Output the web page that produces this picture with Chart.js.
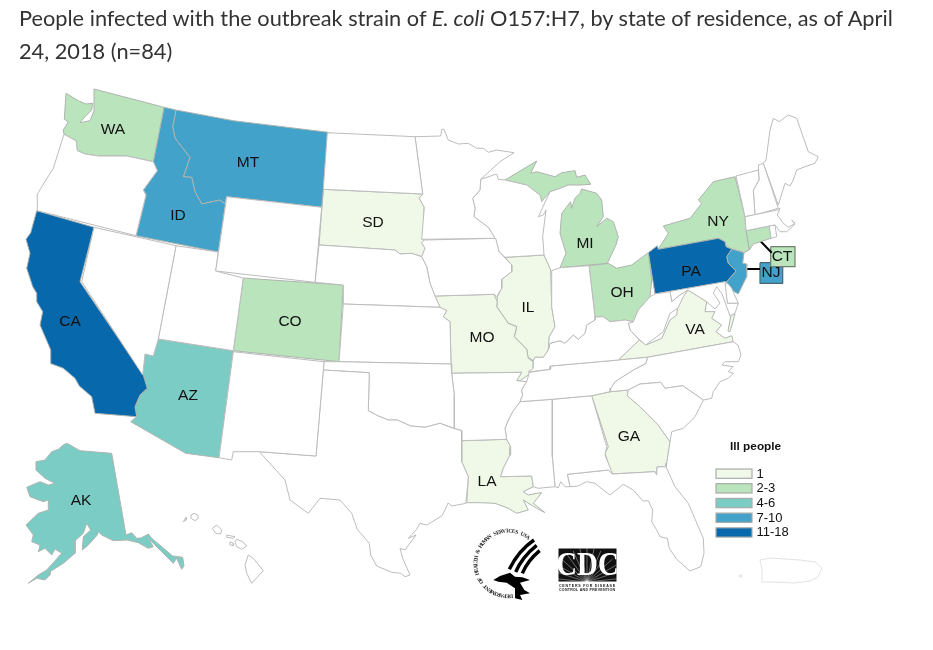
<!DOCTYPE html>
<html><head><meta charset="utf-8">
<script src="https://cdn.jsdelivr.net/npm/chart.js@4"></script>
<style>
html,body{margin:0;padding:0;background:#fff;width:933px;height:650px;overflow:hidden}
#t{position:absolute;left:19px;top:2px;width:910px;font:21.75px/33px Lato,sans-serif;color:#333;z-index:2;white-space:nowrap}
canvas{position:absolute;left:0;top:0}
</style></head><body>
<div id="t">People infected with the outbreak strain of <i>E. coli</i> O157:H7, by state of residence, as of April<br>24, 2018 (n=84)</div>
<canvas id="c" width="933" height="650"></canvas>
<script>
// legend bins
const binLabels=['1','2-3','4-6','7-10','11-18'];
const binColors=['#f0f9e8','#bae4bc','#7bccc4','#43a2ca','#0868ac'];
// states in each bin
const bin1=['SD','IL','MO','VA','GA','LA','VAES'];
const bin2=['WA','CO','MI','MIU','OH','NY','CT'];
const bin3=['AZ','AK'];
const bin4=['MT','ID','NJ'];
const bin5=['CA','PA'];
// state labels [text, x, y]
const labels=[['WA',113,130],['MT',248,163],['ID',178,216],['SD',373,223],['MI',585,244],['NY',718,222],['PA',691,272],['OH',622,293],['IL',528,308],['MO',482,338],['VA',695,330],['CO',290,322],['CA',70,322],['AZ',188,396],['GA',629,437],['LA',487,482],['AK',81,501],['CT',782,257],['NJ',771,273]];
// outlines, in map units
const WA=[[66,93.3],[78.3,100.7],[86,104],[92.7,103.3],[91.7,110],[85,116.7],[80,122.7],[90,120.7],[94,110.7],[94,98.3],[94,89],[164,107.3],[153.3,161.7],[126.7,156],[98.3,156],[85,154],[77.3,150.7],[76,140.7],[64,134.3],[63.3,130],[68.3,121.7],[64.3,119.3]];
const OR=[[64,134.3],[76,140.7],[77.3,150.7],[85,154],[98.3,156],[126.7,156],[153.3,161.7],[157.3,170.7],[143.3,190],[146,195],[136,235.7],[37.3,210.7],[37.3,194],[53.3,168.3]];
const ID=[[164,107.3],[176,110],[172.7,126.7],[175,138.3],[190,157.3],[183.3,176.7],[191.7,177.3],[195,191.7],[201.7,204],[220,200],[225,204],[226.7,196.7],[218.3,252],[136,235.7],[146,195],[143.3,190],[157.3,170.7],[153.3,161.7]];
const MT=[[176,110],[233.3,120.7],[328.3,132.3],[321.7,207.3],[226.7,196.7],[225,204],[220,200],[201.7,204],[195,191.7],[191.7,177.3],[183.3,176.7],[190,157.3],[175,138.3],[172.7,126.7]];
const WY=[[226.7,196.7],[321.7,207.3],[315,282.3],[215.7,271]];
const NV=[[94,227.3],[176,245.7],[158.3,339],[153.3,356],[145,354],[142.7,375],[81.7,281.7]];
const CA=[[36.7,210.7],[94,227.3],[80,281.7],[143.3,375],[147.3,388.3],[140,395],[135,406.7],[136.7,416.7],[95,413.3],[91.7,396.7],[79.3,386],[75,378.3],[63.3,368.3],[50,363.3],[50.7,350],[40,325],[42.7,311.7],[36.7,301.7],[36.7,293.3],[32.7,286.7],[26.7,268.3],[30,253.3],[26,239.3],[30.7,232.7]];
const BAY=[[39.3,290.7],[42.7,290],[44,302.7],[40.7,296.7]];
const AZ=[[158.3,339],[233.3,350.7],[219,457.7],[185.7,453.3],[130.7,421.7],[136.7,416.7],[135,406.7],[140,395],[147.3,388.3],[142.7,375],[145,354],[153.3,356]];
const UT=[[176,245.7],[218.3,252],[215.7,271],[243.3,278],[233.3,350.7],[158.3,339]];
const CO=[[243.3,278],[343.3,285],[339,361.7],[233.3,350.7]];
const NM=[[233.3,351.7],[324,361.7],[316,456],[259.3,451.7],[233.3,451.7],[231.7,460],[219,457.7]];
const TX=[[323.3,370],[369.3,372.7],[368.3,410.7],[378.3,416],[388.3,420],[397.3,420],[410.7,426],[425,427.3],[440,423.3],[453.3,428.3],[461.7,430.7],[461.7,461.7],[468.3,476.7],[466,503.3],[452,506],[448,503],[445,510],[441.7,516],[426.7,525],[420,523.3],[416.7,529.3],[408.3,538.3],[416,535],[405,550],[400,548.3],[402.7,558.3],[410,575],[405,576.7],[400.7,573.3],[391.7,572.3],[376.7,566],[370.7,555],[369.3,543.3],[357.3,529.3],[351.7,513.3],[340,500],[320,498.3],[308.3,513.3],[290,500],[285,480],[259.3,451.7],[316,456]];
const OK=[[324,361.7],[339,361.7],[451,364],[451.7,373.3],[454.3,395],[454.3,428.3],[440,423.3],[425,427.3],[410.7,426],[397.3,420],[388.3,420],[378.3,416],[368.3,410.7],[369.3,372.7],[323.3,370]];
const KS=[[343.3,304],[440,307.3],[446.7,310.7],[443.3,316.7],[450,321.7],[451,364],[339,361.7]];
const NE=[[319,245],[395,250],[400,254],[411.7,253.3],[421.7,256.7],[426.7,266.7],[430,283.3],[435,296],[440,307.3],[343.3,304],[343.3,285],[315,282.3]];
const SD=[[323.3,189.3],[422.7,194],[419.3,198.3],[424.3,207.3],[424.3,240],[421.7,242.7],[425,248.3],[421.7,256.7],[411.7,253.3],[400,254],[395,250],[319,245]];
const ND=[[327.3,132.7],[415,136.7],[422.7,194],[323.3,189.3]];
const MN=[[415,136.7],[440.7,136],[441.7,129.3],[444,129.3],[448.3,140],[458.3,144],[468.3,143.3],[476.7,148.3],[483.3,148.3],[488.3,152.3],[496.7,150],[514,152.7],[500,161.7],[480.7,179.3],[480,190],[472.7,198.3],[475,208.3],[474,216.7],[488.3,227.3],[495,238.3],[421.7,239.3],[424.3,207.3],[419.3,198.3],[422.7,194]];
const IA=[[424.3,240],[495.7,238.3],[499,251.7],[511.7,265],[511.7,271.7],[501.7,279.3],[501.7,288.3],[496.7,296.7],[494,294.3],[435,296],[430,283.3],[426.7,266.7],[421.7,256.7],[425,248.3],[421.7,242.7]];
const MO=[[435,296],[494,294.3],[497.3,301.7],[496.7,306.7],[508.3,323.3],[516.7,326.7],[514.3,336.7],[526.7,349.3],[528.3,358.3],[533.3,361.7],[533.3,368.3],[528.3,375],[520,380.7],[516.7,380.7],[521.7,372.3],[451.7,373.3],[451,364],[450,321.7],[443.3,316.7],[446.7,310.7],[440,307.3]];
const IL=[[505,257.3],[544,255],[550.7,270],[551.7,306.7],[555,326.7],[549.3,336.7],[548.3,350],[543.3,357.3],[535,357.3],[533.3,360.7],[527.3,356.7],[526.7,349.3],[514.3,336.7],[516.7,326.7],[508.3,323.3],[496.7,306.7],[497.3,296.7],[501.7,288.3],[501.7,279.3],[511.7,271.7],[511.7,265]];
const WI=[[480.7,179.3],[496.7,174],[498.3,179.3],[505,180],[526.7,185],[540,195],[541.7,201.7],[550,191.7],[538.3,216.7],[543.3,215],[546,210],[542.7,236.7],[544,255],[505,257.3],[499,251.7],[495,238.3],[488.3,227.3],[474,216.7],[475,208.3],[472.7,198.3],[480,190]];
const MIU=[[505,180],[536.7,161],[530.7,173.3],[536.7,171.7],[555,176.7],[561.7,172.7],[575,170.7],[576.7,177.3],[585,175],[590.7,184.3],[580,185],[568.3,185],[560,188.3],[550,191.7],[544,202.7],[541.7,201.7],[540,195],[526.7,185]];
const MI=[[581.7,189],[596.7,193.3],[601.7,200],[603.3,216.7],[596.7,226.7],[606.7,218.3],[613.3,221.7],[618.3,236.7],[616,245],[607.3,263.3],[560,267.7],[566,253.3],[560,233.3],[561.7,213.3],[570.7,201.7],[571.7,208.3],[575,198.3],[580,193.3]];
const IN=[[551.7,270.7],[560,267.7],[589,265.7],[595,317],[595,320],[586.7,325],[585,333.3],[578.3,339.3],[573.3,335],[565,343.3],[560,340.7],[550,343.3],[548.3,350],[549.3,336.7],[555,326.7],[551.7,306.7]];
const OH=[[589,265.7],[608.3,263.3],[616.7,268.3],[631.7,265],[648.3,252.7],[651.7,280],[650,296.7],[638.3,310],[633.3,321.7],[625,320],[610,321.7],[603.3,316.7],[595,317]];
const KY=[[528.3,372],[533.3,368.3],[533.3,360.7],[535,357.3],[543.3,357.3],[548.3,350],[550,343.3],[560,340.7],[565,343.3],[573.3,335],[578.3,339.3],[585,333.3],[586.7,325],[595,320],[595,317],[603.3,316.7],[610,321.7],[625,320],[633.3,321.7],[628.3,323.3],[630,330],[639.3,340],[618.3,360],[550.7,366],[550,369.3]];
const TN=[[529.3,372.3],[550,369.3],[550.7,366],[618.3,360],[647.3,357.3],[646,363.3],[633.3,370],[615,381.7],[610.7,388.3],[610,391.7],[591.7,395.7],[552.3,399.3],[520,401.7],[522.7,395],[521.7,390],[526.7,381.7]];
const AR=[[451.7,373.3],[521.7,372.3],[516.7,380.7],[526.7,381.7],[521.7,390],[522.7,395],[520,401.7],[512.7,411.7],[508.3,420],[505,428.3],[506.7,439.3],[461.7,440.7],[461.7,430.7],[454.3,428.3],[454.3,395]];
const LA=[[461.7,440.7],[506.7,439.3],[510.7,446.7],[510,455],[503.3,468.3],[500.7,476.7],[531.7,476],[533.3,486.7],[523.3,491.7],[528.3,495],[536.7,493.3],[541.7,492.7],[533.3,503.3],[545,512.7],[536.7,508.3],[523.3,500],[528.3,510],[516.7,513.3],[508.3,508.3],[495,503.3],[480,502.7],[466.7,502.7],[468.3,476.7],[461.7,461.7]];
const MS=[[520,401.7],[552.3,399.3],[552.3,456.7],[555,486.7],[538.3,488.3],[533.3,486.7],[531.7,476],[500.7,476.7],[503.3,468.3],[510,455],[510.7,446.7],[506.7,439.3],[505,428.3],[508.3,420],[512.7,411.7]];
const AL=[[552.3,399.3],[591.7,395.7],[606.7,446.7],[605,455],[612.7,474],[608.3,470],[567.3,474.3],[570,486.7],[565,486.7],[560.7,481.7],[558.3,487.7],[555,486.7],[552.3,456.7]];
const GA=[[591.7,395.7],[610.7,391.7],[628.3,390],[627.3,395.7],[640,406.7],[658.3,425],[670,441.7],[666.7,463.3],[666,466.7],[657,467],[656.7,475],[655,471.7],[611.7,474],[605,453.3],[608.3,446.7]];
const SC=[[627.3,395.7],[628.3,390],[640,384],[660.7,382.3],[665,388.3],[682.7,385.7],[703.3,400],[695,416.7],[683.3,428.3],[671.7,431.7],[670,441.7],[658.3,425],[640,406.7]];
const NC=[[647.3,357.3],[733.3,341.7],[738,345],[741,355],[738.3,361.7],[725,361.7],[722,365],[733,366.7],[728.3,371.7],[733.3,373.3],[728.3,378.3],[720,381.7],[713.3,391.7],[711.7,398.3],[703.3,400],[682.7,385.7],[665,388.3],[660.7,382.3],[640,384],[628.3,390],[610.7,391.7],[610.7,388.3],[615,381.7],[633.3,370],[646,363.3]];
const VA=[[618.3,360],[639.3,340],[646,345],[661.7,338.3],[670,320],[676.7,315],[678,303],[688,290],[706.7,301.7],[705,311.7],[715,311.7],[711.7,318.3],[721.7,325],[716,331.7],[725,338.3],[731.7,335.7],[733.3,341.7],[647.3,357.3]];
const VAES=[[730,331.7],[735,314],[731,315],[728,331]];
const WV=[[628.3,323.3],[633.3,321.7],[638.3,310],[650,296.7],[653.3,295],[655,294],[670,291.7],[671.7,301.7],[680,295],[688,290],[683.3,296.7],[678,308],[670,313.3],[663.3,331.7],[645.7,345],[640,340],[630,330]];
const MD=[[655,294],[725,281.7],[727.3,303.3],[738.3,303.3],[735,313.3],[730,316],[726,305],[722,294],[716.7,286.7],[713.3,293.3],[720,303],[715,309],[706.7,301.7],[688,290],[680,295],[671.7,301.7],[670,291.7]];
const DE=[[724.3,285],[727.7,283.3],[731.7,288.3],[738.3,303.3],[727.3,303.3]];
const PA=[[648.3,252.7],[657.3,245.7],[658.3,249.3],[718.3,238.3],[725,241.7],[726,246.7],[731.7,249],[726.7,256.7],[728,263],[736,271],[726.7,281.7],[655,294]];
const NJ=[[731.7,249],[744,252.7],[742.7,263.3],[746.7,264],[746.7,276.7],[738.3,294],[728.3,288.3],[726.7,281.7],[736,271],[728,263],[726.7,256.7]];
const NY=[[658.3,249.3],[668.3,233.3],[663.3,226],[690,218.3],[701.7,203.3],[698.3,200],[713.3,181.7],[735,176.7],[745,216.7],[746,230.7],[749.3,250],[744,252.7],[731.7,249],[726,246.7],[725,241.7],[718.3,238.3]];
const CT=[[746,230.7],[769.3,226],[771,238.3],[753.3,244],[749.3,250]];
const RI=[[769.3,226],[775,225],[776.7,236.7],[771,238.3]];
const MA=[[745,216.7],[777.3,210],[780,208.3],[777.3,215],[783.3,223.3],[788.3,227.3],[795,223.3],[791.7,220],[795,224],[786.7,231.7],[780,231.7],[775,225],[769.3,226],[746,230.7]];
const VT=[[736,176],[758.3,170],[759,180],[753.3,190],[755,215],[745,216.7]];
const NH=[[758.3,165],[763.3,163.3],[778.3,208.3],[755,215],[753.3,190],[759,180]];
const ME=[[763.3,163.3],[766,160],[770,130],[773.3,118.3],[779.3,121.7],[788.3,115],[796.7,118.3],[808.3,151.7],[818.3,156.7],[815,163.3],[805,166.7],[796.7,170],[793.3,180],[790,186],[785,183.3],[778.3,205]];
const FL=[[567.3,474.3],[608.3,470],[612.7,474],[655,471.7],[656.7,475],[657,467],[666,466.7],[675,486.7],[688.3,503.3],[703.3,538.3],[704,553.3],[700.7,566.7],[690,571],[676.7,559.3],[669.3,548.3],[667.3,538.3],[660,536.7],[656.7,530],[651.7,521.7],[652.7,510],[648.3,500.7],[643,501],[633.3,490],[623.3,484.3],[610,495],[603.3,490],[595,483.3],[586.7,481.7],[578,486],[570,486.7]];
const AK=[[66.7,443.3],[70,445],[80,450.7],[111.7,453.3],[126,535],[131.7,532.7],[136.7,538.3],[141,538],[148.3,534],[151.7,538.3],[172.7,556],[182.7,557.3],[184,566],[181.7,569.3],[176.7,558.3],[173.3,563.3],[148.3,538.3],[153.3,546.7],[148.3,548.3],[138.3,542.7],[127.3,540],[113.3,540.7],[101.7,535],[98.3,531.7],[97.3,535],[88.3,545],[82.3,550],[83.3,536.7],[90.7,530],[86.7,523.3],[83.3,533.3],[75,541],[75,553.3],[63.3,563.3],[50,571.7],[50,575],[45,580],[36.7,578.3],[28.3,583.3],[38.3,575],[46.7,570],[61.7,553.3],[55,549],[51.7,555],[45,548.3],[38.3,551.7],[40,545],[31.7,541.7],[33.3,535],[26,525],[38.3,513.3],[48.3,510],[48.3,500],[43.3,501.7],[30,496.7],[26.7,487.3],[40,481.7],[48.3,485],[55,483.3],[45,478.3],[36,470],[36,461.7],[45,460],[51.7,451.7],[58.3,449.3],[63.3,445]];
const HI1=[[194,513.3],[197.7,515],[198.3,518.3],[195,520.7],[191,518.3],[191,515]];
const HI2=[[183.3,521.7],[186,517.3],[186.3,520]];
const HI3=[[212.3,528.3],[216.7,525],[221.7,530],[220.7,534],[215.7,533.3]];
const HI4=[[226.7,535],[235,536.7],[233.3,538.3],[226.7,537.3]];
const HI5=[[236.7,539.3],[242.7,541.7],[246.7,546],[241.7,549.3],[236.7,546.7],[235,541.7]];
const HI6=[[230,541.7],[233.3,543.3],[233.3,545.7],[230.7,545]];
const HI7=[[248.3,555],[253.3,558.3],[263.3,570.7],[251.7,583.3],[246.7,573.3],[245,565]];
const PR=[[760,560],[770,558],[800,560],[815,562],[822,568],[818,577],[810,581],[795,583],[770,582],[762,582],[762,570]];
const VI=[[739.5,575],[741.5,575],[741.5,577],[739.5,577]];
const CT_BOX=[[770.7,246.7],[795,246.7],[795,266.7],[770.7,266.7]];
const NJ_BOX=[[760,262.7],[782.7,262.7],[782.7,283.3],[760,283.3]];
const CT_LEADER=[[756.7,237.3],[771.7,252.7]];
const NJ_LEADER=[[740.7,269],[760,269]];

const shapes={WA,OR,ID,MT,WY,NV,CA,AZ,UT,CO,NM,TX,OK,KS,NE,SD,ND,MN,IA,MO,IL,WI,MIU,MI,IN,OH,KY,TN,AR,LA,MS,AL,GA,SC,NC,VA,VAES,WV,MD,DE,PA,NJ,NY,CT,RI,MA,VT,NH,ME,FL,AK,HI1,HI2,HI3,HI4,HI5,HI6,HI7,PR,VI};
const faint=['PR','VI'];
const fillOf={};[bin1,bin2,bin3,bin4,bin5].forEach((b,i)=>b.forEach(s=>fillOf[s]=binColors[i]));
const closed=p=>p.concat([p[0]]).map(([x,y])=>({x,y}));
const poly=(name,pts,fill,stroke,w)=>({label:name,data:closed(pts),showLine:true,fill:'shape',backgroundColor:fill,borderColor:stroke,borderWidth:w,pointRadius:0,tension:0,borderJoinStyle:'round'});
const order=Object.keys(shapes).sort((a,b)=>(fillOf[a]?1:0)-(fillOf[b]?1:0));
const datasets=order.map(n=>poly(n,shapes[n],fillOf[n]||'#ffffff',faint.includes(n)?'#e2e2e2':(fillOf[n]?'#aeb4af':'#bcbcbc'),1));
datasets.push(poly('bay',BAY,'#ffffff','#ffffff',0));
[CT_LEADER,NJ_LEADER].forEach((l,i)=>datasets.push({label:'leader'+i,data:l.map(([x,y])=>({x,y})),showLine:true,fill:false,borderColor:'#000',borderWidth:2,pointRadius:0}));
datasets.push(poly('CTbox',CT_BOX,binColors[1],'#6f7f70',1.2));
datasets.push(poly('NJbox',NJ_BOX,binColors[3],'#4a6672',1.2));

const overlay={id:'overlay',afterDatasetsDraw(ch){
 const c=ch.ctx,X=ch.scales.x,Y=ch.scales.y,px=v=>X.getPixelForValue(v),py=v=>Y.getPixelForValue(v);
 c.save();
 c.fillStyle='#111';c.textAlign='center';c.textBaseline='middle';c.font='15.5px "Liberation Sans",Arial,sans-serif';
 labels.forEach(([t,x,y])=>c.fillText(t,px(x),py(y)));
 // legend
 c.textAlign='left';c.fillStyle='#111';c.font='bold 11.8px "Liberation Sans",Arial,sans-serif';
 c.fillText('Ill people',px(730),py(447));
 c.font='13px "Liberation Sans",Arial,sans-serif';
 binLabels.forEach((t,i)=>{const y=469+i*14.7;
  c.fillStyle=binColors[i];c.fillRect(px(716),py(y),36,9.3);
  c.strokeStyle='#a8aca8';c.lineWidth=1.2;c.strokeRect(px(716),py(y),36,9.3);
  c.fillStyle='#111';c.fillText(t,px(756.5),py(y+5));});
 // HHS seal
 const cx=508.3,cy=563.5,r=31,txt='DEPARTMENT OF HEALTH & HUMAN SERVICES USA';
 c.font='bold 5.6px "Liberation Serif",serif';c.fillStyle='#222';c.textAlign='center';c.textBaseline='alphabetic';
 const a0=85*Math.PI/180,a1=307*Math.PI/180;
 [...txt].forEach((ch2,i)=>{const a=a0+(a1-a0)*i/(txt.length-1);
  c.save();c.translate(cx+r*Math.cos(a),cy+r*Math.sin(a));c.rotate(a+Math.PI/2);c.fillText(ch2,0,0);c.restore();});
 c.strokeStyle='#000';c.lineCap='butt';
 const z=(x,y)=>[465+x/3,530+y/3];
 const stripe=(p,w)=>{c.lineWidth=w;c.beginPath();c.moveTo(...z(p[0],p[1]));c.quadraticCurveTo(...z(p[2],p[3]),...z(p[4],p[5]));c.stroke();};
 stripe([207,30,160,62,133,118],3.4);
 stripe([215,46,172,80,152,126],3.4);
 stripe([224,62,188,92,172,130],3.4);
 c.fillStyle='#000';c.beginPath();
 [[85,150],[105,138],[135,128],[150,140],[172,142],[195,150],[165,158],[178,180],[195,190],[165,195],[172,210],[150,205],[150,175],[125,158],[100,155]].forEach((q,i)=>{const [a,b]=z(q[0],q[1]);i?c.lineTo(a,b):c.moveTo(a,b);});
 c.closePath();c.fill();
 // CDC mark
 c.fillStyle='#111';c.fillRect(558.5,548.5,58,33);
 c.strokeStyle='rgba(255,255,255,.75)';c.lineWidth=.5;
 for(let i=0;i<15;i++){const a=Math.PI*(i+.5)/15;c.beginPath();c.moveTo(587,582);c.lineTo(587+Math.cos(a)*-34,582-Math.sin(a)*34);c.stroke();}
 c.save();c.translate(587.5,574.5);c.scale(.93,1.08);c.font='bold 31px "Liberation Serif",serif';c.fillStyle='#fff';c.textBaseline='alphabetic';c.textAlign='center';c.fillText('CDC',0,0);c.restore();
 c.fillStyle='#222';c.font='bold 3.6px "Liberation Sans",sans-serif';c.textAlign='left';c.textBaseline='middle';
 if('letterSpacing' in c)c.letterSpacing='.75px';c.fillText('CENTERS FOR DISEASE',559,585.5);
 if('letterSpacing' in c)c.letterSpacing='.25px';c.fillText('CONTROL AND PREVENTION',559,589.5);
 c.restore();
}};
new Chart(document.getElementById('c'),{type:'scatter',data:{datasets},plugins:[overlay],options:{
 responsive:false,animation:false,events:[],
 layout:{padding:0},
 scales:{x:{type:'linear',min:0,max:933,display:false},y:{type:'linear',min:0,max:650,reverse:true,display:false}},
 plugins:{legend:{display:false},tooltip:{enabled:false},title:{display:false}}}});
</script>
</body></html>
